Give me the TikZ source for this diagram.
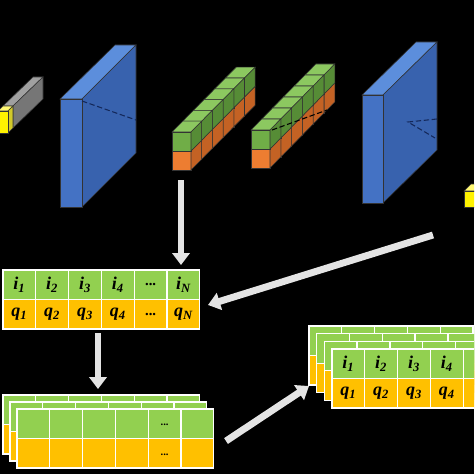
\documentclass[tikz,border=0pt]{standalone}
\usepackage{fontspec}
\setmainfont{Liberation Serif}
\usetikzlibrary{arrows.meta}

\definecolor{slabfront}{RGB}{68,114,196}
\definecolor{slabtop}{RGB}{92,142,220}
\definecolor{slabside}{RGB}{56,98,174}
\definecolor{slabdash}{RGB}{20,40,90}
\definecolor{cubegreen}{RGB}{112,173,71}
\definecolor{cubegreentop}{RGB}{140,200,96}
\definecolor{cubegreenside}{RGB}{86,140,54}
\definecolor{cubeorange}{RGB}{237,125,49}
\definecolor{cubeorangeside}{RGB}{196,98,36}
\definecolor{bargray}{RGB}{160,160,160}
\definecolor{bargrayside}{RGB}{118,118,118}
\definecolor{tabgreen}{RGB}{146,208,80}
\definecolor{taborange}{RGB}{255,192,0}
\definecolor{arrowgray}{RGB}{228,228,228}

\newcommand{\cellvar}[2]{#1\textsubscript{#2}}

\begin{document}
\begin{tikzpicture}[x=0.75pt,y=0.75pt,yscale=-1,xscale=1,
  faceedge/.style={draw=black!80,line width=0.4pt},
  cellg/.style={fill=tabgreen,draw=white,line width=1pt},
  cello/.style={fill=taborange,draw=white,line width=1pt},
  celltext/.style={inner sep=0.75pt,font=\fontsize{13.5}{13.5}\selectfont\bfseries\itshape},
  celldots/.style={inner sep=0.75pt,font=\fontsize{8}{8}\selectfont\bfseries},
  slabline/.style={draw=slabdash,line width=0.8pt,dash pattern=on 4pt off 2pt},
  flowarrow/.style={draw=arrowgray,line width=5.2pt,-{Triangle[length=9pt,width=13pt]}}]

%Background
\fill[black] (0,0) rectangle (474,474);
\useasboundingbox (0,0) rectangle (474,474);
\clip (0,0) rectangle (474,474);

%Shape: Gray bar with yellow end
\draw[faceedge, fill=bargray] (3,106) -- (33,77) -- (43,77) -- (13,106) -- cycle;
\draw[faceedge, fill=bargrayside] (13,106) -- (43,77) -- (43,99) -- (13,128) -- cycle;
\draw[faceedge, fill=yellow!55] (-2,111) -- (3,106) -- (13,106) -- (8,111) -- cycle;
\draw[faceedge, fill=yellow!80!black] (8,111) -- (13,106) -- (13,128) -- (8,133) -- cycle;
\draw[faceedge, fill=yellow] (-2,111) rectangle (8,133);

%Shape: Slab 1
\draw[faceedge, fill=slabtop] (60,99) -- (115,45) -- (136,45) -- (82,99) -- cycle;
\draw[faceedge, fill=slabside] (82,99) -- (136,45) -- (136,153) -- (82,207) -- cycle;
\draw[faceedge, fill=slabfront] (60,99) rectangle (82,207);
\draw[slabline] (82,101) -- (136,120);

%Shape: Cube bars
\foreach \bx/\by/\sx/\sy in {172/132/10.7/-10.8, 251/130/10.8/-11} {
  \foreach \k in {5,4,...,0} {
    \pgfmathsetmacro\cx{\bx+\sx*\k}
    \pgfmathsetmacro\cy{\by+\sy*\k}
    \draw[faceedge, fill=cubeorange] (\cx,\cy+19) rectangle ++(19,19);
    \draw[faceedge, fill=cubeorangeside] (\cx+19,\cy+19) -- ++(\sx,\sy) -- ++(0,19) -- ++(-\sx,-\sy) -- cycle;
    \draw[faceedge, fill=cubegreen] (\cx,\cy) rectangle ++(19,19);
    \draw[faceedge, fill=cubegreentop] (\cx,\cy) -- ++(\sx,\sy) -- ++(19,0) -- ++(-\sx,-\sy) -- cycle;
    \draw[faceedge, fill=cubegreenside] (\cx+19,\cy) -- ++(\sx,\sy) -- ++(0,19) -- ++(-\sx,-\sy) -- cycle;
  }
}
\draw[black, line width=0.8pt, dash pattern=on 4pt off 2pt] (272,130) -- (327,110);

%Shape: Slab 2
\draw[faceedge, fill=slabtop] (362,95) -- (416,42) -- (437,42) -- (383,95) -- cycle;
\draw[faceedge, fill=slabside] (383,95) -- (437,42) -- (437,150) -- (383,203) -- cycle;
\draw[faceedge, fill=slabfront] (362,95) rectangle (383,203);
\draw[slabline] (437,119) -- (408,122) -- (435,138);

%Shape: Yellow cube at right
\draw[faceedge, fill=yellow!55] (464,191) -- (471,184) -- (497,184) -- (490,191) -- cycle;
\draw[faceedge, fill=yellow] (464,191) rectangle (490,207);

%Shape: Tables (back layers first)
\foreach \ox/\oy in {3/270, 3/395, 10/402, 17/409, 309/326, 316.7/333.7, 324.3/341.3, 332/349} {
  \foreach \c in {0,...,5} {
    \draw[cellg] (\ox+32.8*\c,\oy) rectangle ++(32.8,29.5);
    \draw[cello] (\ox+32.8*\c,\oy+29.5) rectangle ++(32.8,29.5);
  }
}

% Text Node
\foreach \s [count=\n from 0] in {1,2,3,4} {
  \node[celltext] (ti\s) at (19.4+32.8*\n,285) {\cellvar{i}{\s}};
  \node[celltext] (tq\s) at (19.4+32.8*\n,314.5) {\cellvar{q}{\s}};
  \node[celltext] (ri\s) at (348.4+32.8*\n,364) {\cellvar{i}{\s}};
  \node[celltext] (rq\s) at (348.4+32.8*\n,393.5) {\cellvar{q}{\s}};
}
\node[celltext, font=\fontsize{11}{11}\selectfont\bfseries] (tidots) at (150.6,285) {...};
\node[celltext, font=\fontsize{11}{11}\selectfont\bfseries] (tqdots) at (150.6,314.5) {...};
\node[celltext] (tiN) at (183.4,285) {\cellvar{i}{N}};
\node[celltext] (tqN) at (183.4,314.5) {\cellvar{q}{N}};
\node[celldots] (bidots) at (164.6,425) {...};
\node[celldots] (bqdots) at (164.6,455) {...};

%Arrows
\coordinate (barout) at (181,180);
\coordinate (tabin) at (181,265);
\coordinate (slabout) at (433,235);
\coordinate (tabside) at (208,305);
\coordinate (tabout) at (98,333);
\coordinate (stackin) at (98,389);
\coordinate (stackout) at (226,441);
\coordinate (finalin) at (309,386);
\draw[flowarrow] (barout) -- (tabin);
\draw[flowarrow] (slabout) -- (tabside);
\draw[flowarrow] (tabout) -- (stackin);
\draw[flowarrow] (stackout) -- (finalin);

\end{tikzpicture}
\end{document}
